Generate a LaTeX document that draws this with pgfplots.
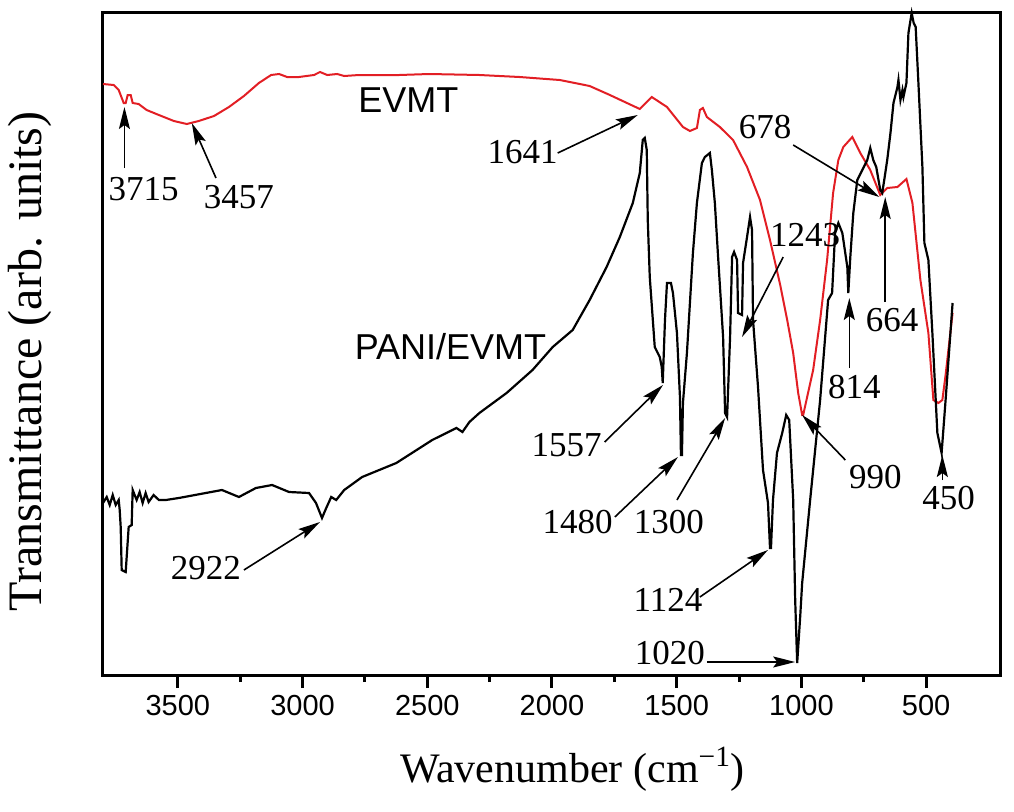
\documentclass[border=0pt]{standalone}
\usepackage{fontspec}
\setmainfont{Liberation Serif}
\newfontfamily\sansf{Liberation Sans}
\usepackage{pgfplots}
\pgfplotsset{compat=1.18}
\usetikzlibrary{arrows.meta}
\definecolor{evred}{RGB}{226,30,36}
\begin{document}
\begin{tikzpicture}
\path[use as bounding box] (-51.5pt,-68pt) rectangle (455.5pt,337.5pt);
\begin{axis}[
  at={(0,0)}, anchor=south west,
  scale only axis, width=449pt, height=331.5pt,
  xmin=200, xmax=3800, ymin=0, ymax=663,
  x dir=reverse,
  axis line style={line width=1.5pt},
  xtick={500,1000,1500,2000,2500,3000,3500},
  minor x tick num=1,
  ytick=\empty,
  xtick pos=bottom,
  tick align=outside,
  major tick length=6.5pt, minor tick length=3.5pt,
  every tick/.style={line width=1.5pt, black},
  /pgf/number format/assume math mode=true,
  /pgf/number format/1000 sep={},
  xticklabel style={font=\sansf\fontsize{14.5}{16}\selectfont},
  xlabel={Wavenumber (cm\textsuperscript{−1})},
  xlabel style={font=\fontsize{21}{24}\selectfont, at={(axis description cs:0.5,0)}, anchor=base, yshift=-53.5pt, xshift=10.25pt},
  ylabel={Transmittance (arb. units)},
  ylabel style={font=\fontsize{24}{27}\selectfont, at={(axis description cs:-0.0813,0.473)}, anchor=center},
  clip=false,
]
% EVMT (red)
\addplot[evred, line width=1pt] coordinates {
(3800,591) (3757,590) (3737,585) (3717,572) (3709,572) (3701,580) (3689,580) (3681,572)
(3657,571) (3625,565) (3576,560) (3516,554) (3464,551) (3416,554) (3355,559) (3295,568)
(3235,579) (3175,592) (3126,600) (3094,601) (3062,598) (3014,598) (2954,600) (2930,603)
(2901,600) (2861,601) (2833,599) (2773,600) (2612,600) (2492,601) (2291,600) (2130,598)
(1969,595) (1849,589) (1768,580) (1708,573) (1648,566) (1600,578) (1539,568) (1475,548)
(1447,544) (1419,547) (1407,565) (1395,567) (1379,558) (1327,548) (1274,535) (1218,508)
(1166,475) (1126,435) (1085,390) (1057,355) (1033,322) (1013,282) (997,260) (993,260)
(953,305) (925,355) (897,415) (873,482) (852,515) (832,528) (796,538) (764,522)
(724,505) (684,480) (656,487) (615,488) (579,496) (555,472) (523,395) (491,342)
(471,275) (451,272) (435,275) (422,300) (394,362)
};
% PANI/EVMT (black)
\addplot[black, line width=1.1pt] coordinates {
(3800,172) (3785,178) (3773,170) (3761,180) (3749,170) (3737,175) (3733,165) (3729,148)
(3725,105) (3709,103) (3697,148) (3685,150) (3681,185) (3665,175) (3653,183) (3641,172)
(3629,182) (3617,173) (3597,180) (3576,175) (3548,175) (3496,177) (3388,182) (3323,185)
(3255,178) (3187,187) (3122,190) (3054,183) (2974,182) (2946,172) (2922,157) (2905,167)
(2885,178) (2865,175) (2833,185) (2761,198) (2624,212) (2480,235) (2383,247) (2359,243)
(2331,253) (2291,262) (2182,282) (2078,305) (1997,328) (1917,345) (1849,375) (1781,408)
(1728,438) (1676,472) (1648,502) (1636,535) (1628,537) (1620,525) (1616,455) (1608,398)
(1588,328) (1568,318) (1560,308) (1556,292) (1547,355) (1539,392) (1523,392) (1515,382)
(1499,342) (1487,278) (1483,220) (1479,220) (1475,272) (1459,322) (1435,422) (1419,472)
(1399,512) (1387,518) (1367,522) (1359,505) (1347,472) (1335,422) (1314,338) (1306,262)
(1298,258) (1286,338) (1278,418) (1270,423) (1258,415) (1254,362) (1238,360) (1234,412)
(1218,438) (1206,458) (1198,445) (1194,355) (1174,288) (1154,205) (1134,172) (1126,127)
(1122,127) (1114,175) (1098,222) (1077,242) (1061,260) (1049,255) (1033,175) (1025,75)
(1017,12) (1005,58) (997,92) (965,175) (925,275) (893,375) (877,382) (865,442)
(852,452) (836,442) (816,408) (812,382) (804,418) (792,462) (776,495) (756,505)
(736,515) (724,527) (712,515) (700,508) (684,485) (676,482) (668,495) (656,515)
(643,542) (631,572) (615,588) (611,595) (603,575) (595,585) (591,578) (579,592)
(571,642) (558,662) (550,652) (542,648) (531,592) (515,508) (507,432) (491,415)
(475,342) (455,242) (438,222) (422,275) (394,372)
};
% annotations
\tikzset{ann/.style={line width=0.8pt, -{Stealth[length=11pt,width=5.5pt,inset=2pt]}},
         num/.style={font=\fontsize{17.5}{20}\selectfont, inner sep=0pt}}
\draw[ann] (3714,507) -- (3714,568);
\node[num] at (3637,486) {3715};
\draw[ann] (3347,497) -- (3444,552);
\node[num] at (3255,478) {3457};
\draw[ann] (1977,522) -- (1656,560);
\node[num] at (2118,523) {1641};
\draw[ann] (1033,530) -- (688,478);
\node[num] at (1146,548) {678};
\draw[ann] (664,373) -- (664,478);
\node[num] at (636,355) {664};
\draw[ann] (808,307) -- (808,377);
\node[num] at (788,288) {814};
\draw[ann] (1073,418) -- (1238,338);
\node[num] at (985,440) {1243};
\draw[ann] (1789,233) -- (1555,290);
\node[num] at (1941,230) {1557};
\draw[ann] (1748,158) -- (1495,218);
\node[num] at (1897,153) {1480};
\draw[ann] (1499,175) -- (1306,257);
\node[num] at (1531,153) {1300};
\draw[ann] (824,215) -- (997,260);
\node[num] at (704,198) {990};
\draw[ann] (435,195) -- (435,220);
\node[num] at (410,177) {450};
\draw[ann] (1407,78) -- (1134,125);
\node[num] at (1535,75) {1124};
\draw[ann] (1379,13) -- (1025,13);
\node[num] at (1527,22) {1020};
\draw[ann] (3235,105) -- (2930,153);
\node[num] at (3388,107) {2922};
\node[font=\sansf\fontsize{18}{20}\selectfont, inner sep=0pt] at (2576,575) {EVMT};
\node[font=\sansf\fontsize{18}{20}\selectfont, inner sep=0pt] at (2407,328) {PANI/EVMT};
\end{axis}
\end{tikzpicture}
\end{document}
